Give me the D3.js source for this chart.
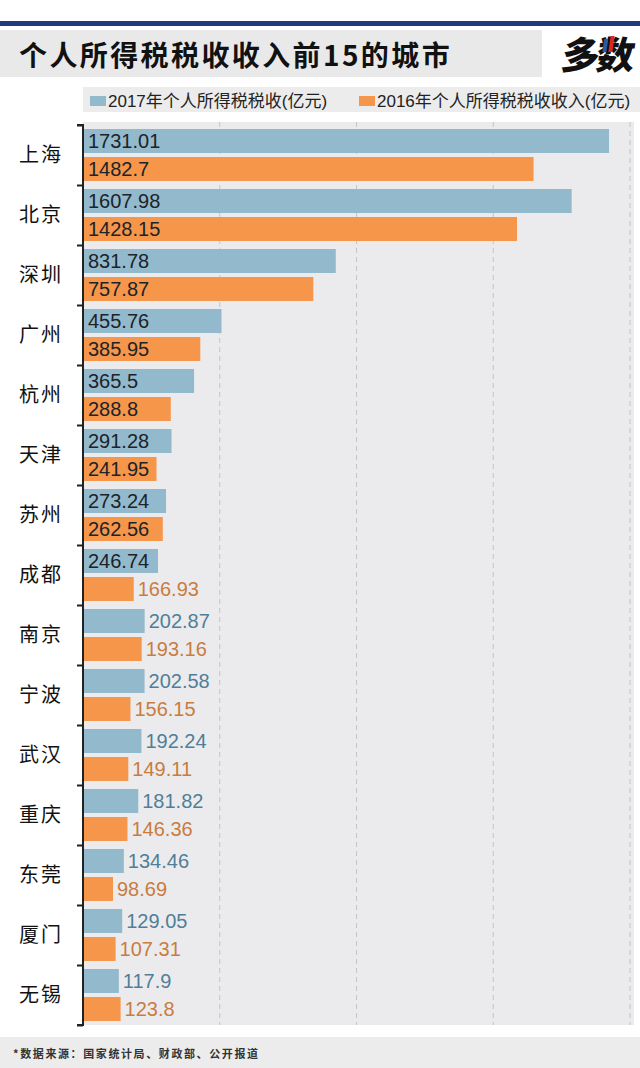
<!DOCTYPE html>
<html>
<head>
<meta charset="utf-8">
<script src="https://cdn.jsdelivr.net/npm/d3@7"></script>
<style>
  body { margin: 0; background: #fff; }
  text { font-family: "Liberation Sans", "Noto Sans CJK SC", sans-serif; }
  .cjk { font-family: "Noto Sans CJK SC", sans-serif; }
</style>
</head>
<body>
<svg id="chart" width="640" height="1068"></svg>
<script>
const cities = ["上海", "北京", "深圳", "广州", "杭州", "天津", "苏州", "成都",
  "南京", "宁波", "武汉", "重庆", "东莞", "厦门", "无锡"];
const tax2017 = [1731.01, 1607.98, 831.78, 455.76, 365.5, 291.28, 273.24, 246.74,
  202.87, 202.58, 192.24, 181.82, 134.46, 129.05, 117.9];
const tax2016 = [1482.7, 1428.15, 757.87, 385.95, 288.8, 241.95, 262.56, 166.93,
  193.16, 156.15, 149.11, 146.36, 98.69, 107.31, 123.8];
const seriesNames = ["2017年个人所得税税收(亿元)", "2016年个人所得税税收收入(亿元)"];
const gridTicks = [450, 900, 1350, 1800];

const BLUE = "#92b9cc";
const ORANGE = "#f5964a";
const BLUE_TEXT = "#4f7f98";
const ORANGE_TEXT = "#c97c3e";

const svg = d3.select("#chart");

// header line + title box
svg.append("rect").attr("x", 0).attr("y", 21).attr("width", 640).attr("height", 5).attr("fill", "#1f3b7c");
svg.append("rect").attr("x", 0).attr("y", 30).attr("width", 542).attr("height", 47).attr("fill", "#e9e9ea");
svg.append("text").attr("class", "cjk")
  .attr("x", 19).attr("y", 66)
  .attr("font-size", 28).attr("font-weight", 700)
  .attr("letter-spacing", 2.4)
  .attr("fill", "#111")
  .text("个人所得税税收收入前15的城市");

// logo
const logo = svg.append("g").attr("transform", "translate(556,69) skewX(-8)");
logo.append("text").attr("class", "cjk").attr("x", 4).attr("y", 0)
  .attr("font-size", 38).attr("font-weight", 900).attr("fill", "#111")
  .attr("letter-spacing", -3)
  .text("多数");
logo.append("rect").attr("x", 44).attr("y", -30).attr("width", 4).attr("height", 13).attr("fill", "#2c5aa0");
logo.append("rect").attr("x", 50).attr("y", -33).attr("width", 4).attr("height", 16).attr("fill", "#d8262b");

// legend
svg.append("rect").attr("x", 83).attr("y", 87).attr("width", 557).attr("height", 25).attr("fill", "#ececed");
const legendX = [90, 359];
const legendColors = [BLUE, ORANGE];
seriesNames.forEach((name, i) => {
  svg.append("rect").attr("x", legendX[i]).attr("y", 96).attr("width", 16).attr("height", 10).attr("fill", legendColors[i]);
  svg.append("text").attr("x", legendX[i] + 18).attr("y", 107)
    .attr("font-size", 17).attr("fill", "#222")
    .text(name);
});

// scales
const plotTop = 125, plotBottom = 1025, plotLeft = 83;
const x = d3.scaleLinear().domain([0, 1800]).range([plotLeft, 630]);
const y = d3.scaleBand().domain(cities).range([plotTop, plotBottom]);
const yEdge = d3.scaleLinear().domain([0, cities.length]).range([plotTop, plotBottom]);

// plot background
svg.append("rect").attr("x", plotLeft).attr("y", 122).attr("width", 634 - plotLeft).attr("height", plotBottom - 122).attr("fill", "#ebebee");

// grid
svg.append("g").selectAll("line")
  .data(gridTicks)
  .join("line")
  .attr("x1", d => x(d)).attr("x2", d => x(d))
  .attr("y1", 122).attr("y2", plotBottom)
  .attr("stroke", "#c4c4c6").attr("stroke-width", 1)
  .attr("stroke-dasharray", "5,4");

// bars
const rows = cities.map((c, i) => ({ city: c, v2017: tax2017[i], v2016: tax2016[i] }));
const series = [
  { key: "v2017", offset: 4, fill: BLUE, outText: BLUE_TEXT },
  { key: "v2016", offset: 32, fill: ORANGE, outText: ORANGE_TEXT }
];
const barH = 24;

series.forEach(s => {
  svg.append("g").selectAll("rect")
    .data(rows)
    .join("rect")
    .attr("x", x(0))
    .attr("y", d => y(d.city) + s.offset)
    .attr("width", d => x(d[s.key]) - x(0))
    .attr("height", barH)
    .attr("fill", s.fill);

  svg.append("g").selectAll("text")
    .data(rows)
    .join("text")
    .attr("x", d => (x(d[s.key]) - x(0) > 70) ? x(0) + 5 : x(d[s.key]) + 4)
    .attr("y", d => y(d.city) + s.offset + barH / 2)
    .attr("dy", "0.36em")
    .attr("font-size", 20)
    .attr("fill", d => (x(d[s.key]) - x(0) > 70) ? "#1c2329" : s.outText)
    .text(d => String(d[s.key]));
});

// axis with ticks at band edges
const axis = svg.append("g")
  .attr("transform", `translate(${plotLeft},0)`)
  .call(d3.axisLeft(yEdge).tickValues(d3.range(cities.length + 1)).tickSize(6).tickFormat(""));
axis.select(".domain").attr("stroke", "#222").attr("stroke-width", 2).attr("d", `M-6,${plotTop}H0V${plotBottom}H-6`);
axis.selectAll(".tick line").attr("stroke", "#222").attr("stroke-width", 2);

// city labels
svg.append("g").selectAll("text")
  .data(cities)
  .join("text")
  .attr("class", "cjk")
  .attr("x", 41)
  .attr("y", d => y(d) + y.bandwidth() / 2)
  .attr("dy", "0.36em")
  .attr("text-anchor", "middle")
  .attr("font-size", 20)
  .attr("letter-spacing", 2)
  .attr("fill", "#111")
  .text(d => d);

// footer
svg.append("rect").attr("x", 0).attr("y", 1037).attr("width", 640).attr("height", 31).attr("fill", "#ececed");
svg.append("text").attr("class", "cjk")
  .attr("x", 13).attr("y", 1058)
  .attr("font-size", 11).attr("font-weight", 700)
  .attr("letter-spacing", 1.6)
  .attr("fill", "#333")
  .text("*数据来源：国家统计局、财政部、公开报道");
</script>
</body>
</html>
